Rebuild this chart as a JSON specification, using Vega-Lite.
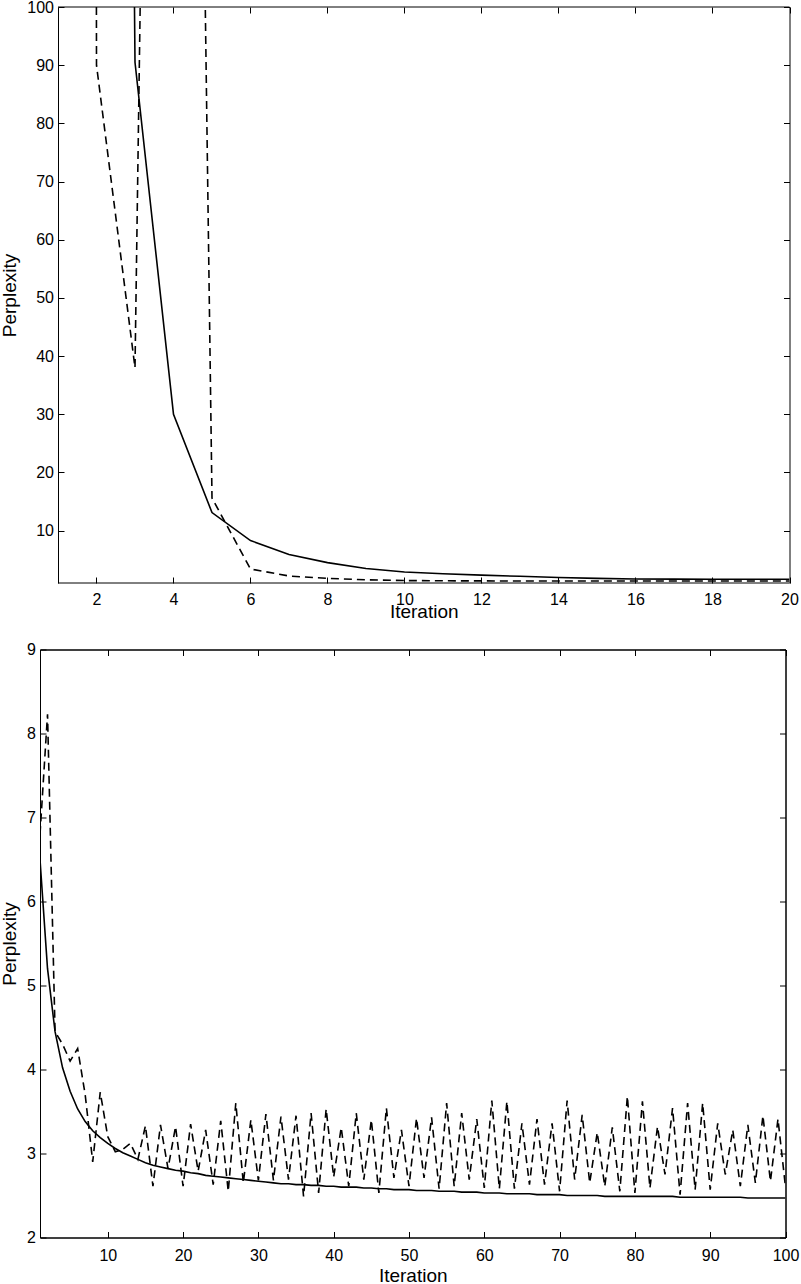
{
  "$schema": "https://vega.github.io/schema/vega-lite/v6.json",
  "padding": {"left": 0, "top": -1, "right": 0, "bottom": 0},
  "background": "white",
  "config": {
    "view": {"stroke": "black", "strokeWidth": 1},
    "axis": {
      "domainColor": "black", "tickColor": "black", "labelColor": "black", "titleColor": "black",
      "labelFont": "Liberation Sans", "titleFont": "Liberation Sans",
      "labelFontSize": 16, "titleFontSize": 19, "titleFontWeight": "normal",
      "grid": false, "tickSize": -6, "labelFlush": false, "labelOverlap": false,
      "domainWidth": 1, "tickWidth": 1
    }
  },
  "datasets": {
    "topA": [
      {"iteration": 1, "perplexity": 3000}, {"iteration": 2, "perplexity": 800}, {"iteration": 3, "perplexity": 90.5},
      {"iteration": 4, "perplexity": 30}, {"iteration": 5, "perplexity": 13.1}, {"iteration": 6, "perplexity": 8.3},
      {"iteration": 7, "perplexity": 5.9}, {"iteration": 8, "perplexity": 4.5}, {"iteration": 9, "perplexity": 3.5},
      {"iteration": 10, "perplexity": 2.9}, {"iteration": 11, "perplexity": 2.6}, {"iteration": 12, "perplexity": 2.35},
      {"iteration": 13, "perplexity": 2.15}, {"iteration": 14, "perplexity": 1.95}, {"iteration": 15, "perplexity": 1.8},
      {"iteration": 16, "perplexity": 1.7}, {"iteration": 17, "perplexity": 1.67}, {"iteration": 18, "perplexity": 1.65},
      {"iteration": 19, "perplexity": 1.65}, {"iteration": 20, "perplexity": 1.65}
    ],
    "topB": [
      {"iteration": 1, "perplexity": 5000}, {"iteration": 2, "perplexity": 90}, {"iteration": 3, "perplexity": 38},
      {"iteration": 4, "perplexity": 500}, {"iteration": 5, "perplexity": 15.6}, {"iteration": 6, "perplexity": 3.4},
      {"iteration": 7, "perplexity": 2.2}, {"iteration": 8, "perplexity": 1.8}, {"iteration": 9, "perplexity": 1.55},
      {"iteration": 10, "perplexity": 1.42}, {"iteration": 11, "perplexity": 1.38}, {"iteration": 12, "perplexity": 1.36},
      {"iteration": 13, "perplexity": 1.35}, {"iteration": 14, "perplexity": 1.35}, {"iteration": 15, "perplexity": 1.35},
      {"iteration": 16, "perplexity": 1.35}, {"iteration": 17, "perplexity": 1.35}, {"iteration": 18, "perplexity": 1.35},
      {"iteration": 19, "perplexity": 1.35}, {"iteration": 20, "perplexity": 1.35}
    ],
    "botA": [
      {"iteration": 1, "perplexity": 6.5}, {"iteration": 2, "perplexity": 5.2}, {"iteration": 3, "perplexity": 4.45},
      {"iteration": 4, "perplexity": 4.02}, {"iteration": 5, "perplexity": 3.74}, {"iteration": 6, "perplexity": 3.53},
      {"iteration": 7, "perplexity": 3.38}, {"iteration": 8, "perplexity": 3.27}, {"iteration": 9, "perplexity": 3.19},
      {"iteration": 10, "perplexity": 3.12}, {"iteration": 11, "perplexity": 3.06}, {"iteration": 12, "perplexity": 3.01},
      {"iteration": 13, "perplexity": 2.97}, {"iteration": 14, "perplexity": 2.93}, {"iteration": 15, "perplexity": 2.89},
      {"iteration": 16, "perplexity": 2.86}, {"iteration": 17, "perplexity": 2.84}, {"iteration": 18, "perplexity": 2.82},
      {"iteration": 19, "perplexity": 2.8}, {"iteration": 20, "perplexity": 2.79}, {"iteration": 21, "perplexity": 2.77},
      {"iteration": 22, "perplexity": 2.76}, {"iteration": 23, "perplexity": 2.74}, {"iteration": 24, "perplexity": 2.73},
      {"iteration": 25, "perplexity": 2.72}, {"iteration": 26, "perplexity": 2.71}, {"iteration": 27, "perplexity": 2.7},
      {"iteration": 28, "perplexity": 2.69}, {"iteration": 29, "perplexity": 2.68}, {"iteration": 30, "perplexity": 2.67},
      {"iteration": 31, "perplexity": 2.66}, {"iteration": 32, "perplexity": 2.65}, {"iteration": 33, "perplexity": 2.64},
      {"iteration": 34, "perplexity": 2.64}, {"iteration": 35, "perplexity": 2.63}, {"iteration": 36, "perplexity": 2.63},
      {"iteration": 37, "perplexity": 2.62}, {"iteration": 38, "perplexity": 2.62}, {"iteration": 39, "perplexity": 2.61},
      {"iteration": 40, "perplexity": 2.61}, {"iteration": 41, "perplexity": 2.6}, {"iteration": 42, "perplexity": 2.6},
      {"iteration": 43, "perplexity": 2.6}, {"iteration": 44, "perplexity": 2.59}, {"iteration": 45, "perplexity": 2.59},
      {"iteration": 46, "perplexity": 2.58}, {"iteration": 47, "perplexity": 2.58}, {"iteration": 48, "perplexity": 2.57},
      {"iteration": 49, "perplexity": 2.57}, {"iteration": 50, "perplexity": 2.57}, {"iteration": 51, "perplexity": 2.56},
      {"iteration": 52, "perplexity": 2.56}, {"iteration": 53, "perplexity": 2.56}, {"iteration": 54, "perplexity": 2.55},
      {"iteration": 55, "perplexity": 2.55}, {"iteration": 56, "perplexity": 2.55}, {"iteration": 57, "perplexity": 2.54},
      {"iteration": 58, "perplexity": 2.54}, {"iteration": 59, "perplexity": 2.54}, {"iteration": 60, "perplexity": 2.53},
      {"iteration": 61, "perplexity": 2.53}, {"iteration": 62, "perplexity": 2.53}, {"iteration": 63, "perplexity": 2.52},
      {"iteration": 64, "perplexity": 2.52}, {"iteration": 65, "perplexity": 2.52}, {"iteration": 66, "perplexity": 2.52},
      {"iteration": 67, "perplexity": 2.51}, {"iteration": 68, "perplexity": 2.51}, {"iteration": 69, "perplexity": 2.51},
      {"iteration": 70, "perplexity": 2.51}, {"iteration": 71, "perplexity": 2.5}, {"iteration": 72, "perplexity": 2.5},
      {"iteration": 73, "perplexity": 2.5}, {"iteration": 74, "perplexity": 2.5}, {"iteration": 75, "perplexity": 2.5},
      {"iteration": 76, "perplexity": 2.49}, {"iteration": 77, "perplexity": 2.49}, {"iteration": 78, "perplexity": 2.49},
      {"iteration": 79, "perplexity": 2.49}, {"iteration": 80, "perplexity": 2.49}, {"iteration": 81, "perplexity": 2.49},
      {"iteration": 82, "perplexity": 2.49}, {"iteration": 83, "perplexity": 2.49}, {"iteration": 84, "perplexity": 2.49},
      {"iteration": 85, "perplexity": 2.49}, {"iteration": 86, "perplexity": 2.48}, {"iteration": 87, "perplexity": 2.48},
      {"iteration": 88, "perplexity": 2.48}, {"iteration": 89, "perplexity": 2.48}, {"iteration": 90, "perplexity": 2.48},
      {"iteration": 91, "perplexity": 2.48}, {"iteration": 92, "perplexity": 2.48}, {"iteration": 93, "perplexity": 2.48},
      {"iteration": 94, "perplexity": 2.48}, {"iteration": 95, "perplexity": 2.47}, {"iteration": 96, "perplexity": 2.47},
      {"iteration": 97, "perplexity": 2.47}, {"iteration": 98, "perplexity": 2.47}, {"iteration": 99, "perplexity": 2.47},
      {"iteration": 100, "perplexity": 2.47}
    ],
    "botB": [
      {"iteration": 1, "perplexity": 6.8}, {"iteration": 2, "perplexity": 8.23}, {"iteration": 3, "perplexity": 4.45},
      {"iteration": 4, "perplexity": 4.3}, {"iteration": 5, "perplexity": 4.1}, {"iteration": 6, "perplexity": 4.25},
      {"iteration": 7, "perplexity": 3.7}, {"iteration": 8, "perplexity": 2.9}, {"iteration": 9, "perplexity": 3.73},
      {"iteration": 10, "perplexity": 3.2}, {"iteration": 11, "perplexity": 3.02}, {"iteration": 12, "perplexity": 3.05},
      {"iteration": 13, "perplexity": 3.12}, {"iteration": 14, "perplexity": 2.93}, {"iteration": 15, "perplexity": 3.33},
      {"iteration": 16, "perplexity": 2.61}, {"iteration": 17, "perplexity": 3.34}, {"iteration": 18, "perplexity": 2.82},
      {"iteration": 19, "perplexity": 3.32}, {"iteration": 20, "perplexity": 2.61}, {"iteration": 21, "perplexity": 3.35},
      {"iteration": 22, "perplexity": 2.79}, {"iteration": 23, "perplexity": 3.28}, {"iteration": 24, "perplexity": 2.63},
      {"iteration": 25, "perplexity": 3.39}, {"iteration": 26, "perplexity": 2.55}, {"iteration": 27, "perplexity": 3.6},
      {"iteration": 28, "perplexity": 2.65}, {"iteration": 29, "perplexity": 3.4}, {"iteration": 30, "perplexity": 2.68},
      {"iteration": 31, "perplexity": 3.47}, {"iteration": 32, "perplexity": 2.68}, {"iteration": 33, "perplexity": 3.44},
      {"iteration": 34, "perplexity": 2.69}, {"iteration": 35, "perplexity": 3.45}, {"iteration": 36, "perplexity": 2.49},
      {"iteration": 37, "perplexity": 3.48}, {"iteration": 38, "perplexity": 2.53}, {"iteration": 39, "perplexity": 3.53},
      {"iteration": 40, "perplexity": 2.72}, {"iteration": 41, "perplexity": 3.31}, {"iteration": 42, "perplexity": 2.61},
      {"iteration": 43, "perplexity": 3.48}, {"iteration": 44, "perplexity": 2.69}, {"iteration": 45, "perplexity": 3.4},
      {"iteration": 46, "perplexity": 2.53}, {"iteration": 47, "perplexity": 3.54}, {"iteration": 48, "perplexity": 2.71},
      {"iteration": 49, "perplexity": 3.28}, {"iteration": 50, "perplexity": 2.61}, {"iteration": 51, "perplexity": 3.42},
      {"iteration": 52, "perplexity": 2.71}, {"iteration": 53, "perplexity": 3.43}, {"iteration": 54, "perplexity": 2.58},
      {"iteration": 55, "perplexity": 3.6}, {"iteration": 56, "perplexity": 2.61}, {"iteration": 57, "perplexity": 3.48},
      {"iteration": 58, "perplexity": 2.69}, {"iteration": 59, "perplexity": 3.41}, {"iteration": 60, "perplexity": 2.59},
      {"iteration": 61, "perplexity": 3.63}, {"iteration": 62, "perplexity": 2.58}, {"iteration": 63, "perplexity": 3.62},
      {"iteration": 64, "perplexity": 2.58}, {"iteration": 65, "perplexity": 3.36}, {"iteration": 66, "perplexity": 2.63},
      {"iteration": 67, "perplexity": 3.41}, {"iteration": 68, "perplexity": 2.63}, {"iteration": 69, "perplexity": 3.36},
      {"iteration": 70, "perplexity": 2.55}, {"iteration": 71, "perplexity": 3.63}, {"iteration": 72, "perplexity": 2.69},
      {"iteration": 73, "perplexity": 3.46}, {"iteration": 74, "perplexity": 2.65}, {"iteration": 75, "perplexity": 3.25},
      {"iteration": 76, "perplexity": 2.61}, {"iteration": 77, "perplexity": 3.31}, {"iteration": 78, "perplexity": 2.55},
      {"iteration": 79, "perplexity": 3.68}, {"iteration": 80, "perplexity": 2.53}, {"iteration": 81, "perplexity": 3.62},
      {"iteration": 82, "perplexity": 2.59}, {"iteration": 83, "perplexity": 3.32}, {"iteration": 84, "perplexity": 2.75},
      {"iteration": 85, "perplexity": 3.54}, {"iteration": 86, "perplexity": 2.51}, {"iteration": 87, "perplexity": 3.6},
      {"iteration": 88, "perplexity": 2.57}, {"iteration": 89, "perplexity": 3.6}, {"iteration": 90, "perplexity": 2.57},
      {"iteration": 91, "perplexity": 3.36}, {"iteration": 92, "perplexity": 2.75}, {"iteration": 93, "perplexity": 3.28},
      {"iteration": 94, "perplexity": 2.61}, {"iteration": 95, "perplexity": 3.34}, {"iteration": 96, "perplexity": 2.65},
      {"iteration": 97, "perplexity": 3.45}, {"iteration": 98, "perplexity": 2.67}, {"iteration": 99, "perplexity": 3.41},
      {"iteration": 100, "perplexity": 2.6}
    ]
  },
  "spacing": 18.5,
  "vconcat": [
    {
      "width": 749.5,
      "height": 576,
      "view": {"stroke": null},
      "layer": [
        {
          "data": {"name": "topA"},
          "mark": {"type": "line", "color": "black", "strokeWidth": 1.6, "clip": true},
          "encoding": {
            "x": {"field": "iteration", "type": "quantitative",
                  "scale": {"domain": [0.5325, 20], "nice": false, "zero": false},
                  "axis": {"orient": "bottom", "values": [2, 4, 6, 8, 10, 12, 14, 16, 18, 20], "title": "Iteration",
                           "domain": false, "labelPadding": 14.8, "titleY": 19.6, "titleX": 383.75}},
            "y": {"field": "perplexity", "type": "quantitative",
                  "scale": {"domain": [1, 100], "nice": false, "zero": false},
                  "axis": {"orient": "left", "offset": -18, "values": [10, 20, 30, 40, 50, 60, 70, 80, 90, 100], "title": "Perplexity",
                           "labelPadding": 10.5, "titlePadding": 7}}
          }
        },
        {
          "data": {"name": "topB"},
          "mark": {"type": "line", "color": "black", "strokeWidth": 1.6, "strokeDash": [8, 5], "clip": true},
          "encoding": {
            "x": {"field": "iteration", "type": "quantitative",
                  "scale": {"domain": [0.5325, 20], "nice": false, "zero": false},
                  "axis": {"orient": "top", "values": [2, 4, 6, 8, 10, 12, 14, 16, 18, 20], "labels": false, "title": null, "domain": false}},
            "y": {"field": "perplexity", "type": "quantitative",
                  "scale": {"domain": [1, 100], "nice": false, "zero": false},
                  "axis": {"orient": "right", "values": [10, 20, 30, 40, 50, 60, 70, 80, 90, 100], "labels": false, "title": null}}
          }
        },
        {
          "data": {"values": [{}]},
          "mark": {"type": "rule", "color": "black", "strokeWidth": 1},
          "encoding": {
            "x": {"datum": 1, "type": "quantitative", "axis": null},
            "x2": {"datum": 20},
            "y": {"datum": 100, "type": "quantitative", "axis": null}
          }
        },
        {
          "data": {"values": [{}]},
          "mark": {"type": "rule", "color": "black", "strokeWidth": 1},
          "encoding": {
            "x": {"datum": 1, "type": "quantitative", "axis": null},
            "x2": {"datum": 20},
            "y": {"datum": 1, "type": "quantitative", "axis": null}
          }
        }
      ],
      "resolve": {"axis": {"x": "independent", "y": "independent"}}
    },
    {
      "width": 745.5,
      "height": 588,
      "layer": [
        {
          "data": {"name": "botA"},
          "mark": {"type": "line", "color": "black", "strokeWidth": 1.6, "clip": true},
          "encoding": {
            "x": {"field": "iteration", "type": "quantitative",
                  "scale": {"domain": [1, 100], "nice": false, "zero": false},
                  "axis": {"orient": "bottom", "values": [10, 20, 30, 40, 50, 60, 70, 80, 90, 100], "title": "Iteration",
                           "labelPadding": 15.5, "titleY": 29.3}},
            "y": {"field": "perplexity", "type": "quantitative",
                  "scale": {"domain": [2, 9], "nice": false, "zero": false},
                  "axis": {"orient": "left", "values": [2, 3, 4, 5, 6, 7, 8, 9], "title": "Perplexity",
                           "labelPadding": 10.5, "titlePadding": 7}}
          }
        },
        {
          "data": {"name": "botB"},
          "mark": {"type": "line", "color": "black", "strokeWidth": 1.6, "strokeDash": [8, 5], "clip": true},
          "encoding": {
            "x": {"field": "iteration", "type": "quantitative",
                  "scale": {"domain": [1, 100], "nice": false, "zero": false},
                  "axis": {"orient": "top", "values": [10, 20, 30, 40, 50, 60, 70, 80, 90, 100], "labels": false, "title": null}},
            "y": {"field": "perplexity", "type": "quantitative",
                  "scale": {"domain": [2, 9], "nice": false, "zero": false},
                  "axis": {"orient": "right", "values": [2, 3, 4, 5, 6, 7, 8, 9], "labels": false, "title": null}}
          }
        }
      ],
      "resolve": {"axis": {"x": "independent", "y": "independent"}}
    }
  ]
}
